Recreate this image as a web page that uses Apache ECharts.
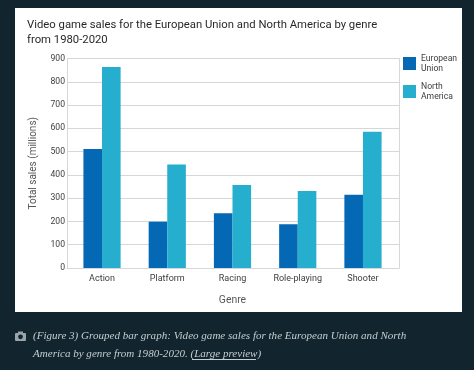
<!DOCTYPE html>
<html>
<head>
<meta charset="utf-8">
<style>
  html, body { margin: 0; padding: 0; background: #12242d; }
  #chart { width: 474px; height: 370px; }
</style>
</head>
<body>
<div id="chart"></div>
<script src="https://cdn.jsdelivr.net/npm/echarts@6/dist/echarts.min.js"></script>
<script>
const genres = ['Action', 'Platform', 'Racing', 'Role-playing', 'Shooter']
const europeanUnion = [511, 199, 235, 188, 315]
const northAmerica = [863, 445, 357, 331, 585]
const valueTicks = { min: 0, max: 900, interval: 100 }
const titleLines = 'Video game sales for the European Union and North America by genre\nfrom 1980-2020'
const captionLines = [
  '(Figure 3) Grouped bar graph: Video game sales for the European Union and North',
  'America by genre from 1980-2020. (Large preview)'
]
const labelFont = 'Roboto, sans-serif'
const captionFont = '"Liberation Serif", serif'
const captionColor = '#c5ced2'
const frameColor = '#d5d7d8'

const chart = echarts.init(document.getElementById('chart'), null, { renderer: 'canvas', width: 474, height: 370 })

function captionText (text, x, y) {
  return {
    type: 'text',
    x: x,
    y: y,
    z: 5,
    style: { text: text, fill: captionColor, font: 'italic 11.05px ' + captionFont, textVerticalAlign: 'middle' }
  }
}

chart.setOption({
  backgroundColor: '#12242d',
  animation: false,
  textStyle: { fontFamily: labelFont },
  title: {
    text: titleLines,
    left: 22,
    top: 13,
    textStyle: { fontSize: 11.3, fontWeight: 'normal', color: '#26292b', lineHeight: 15, fontFamily: labelFont }
  },
  legend: {
    orient: 'vertical',
    left: 398,
    top: 48.5,
    itemWidth: 13,
    itemHeight: 13,
    itemGap: 8,
    itemStyle: { borderWidth: 0 },
    icon: 'rect',
    textStyle: { fontSize: 8.6, color: '#3a3d40', lineHeight: 10, fontFamily: labelFont },
    data: [
      { name: 'European\nUnion' },
      { name: 'North\nAmerica' }
    ]
  },
  // first grid carries the frame and the gridlines, second one the bars
  grid: [
    { left: 67, right: 75, top: 58.5, bottom: 102 },
    { left: 69.4, width: 326.2, top: 58.5, bottom: 102 }
  ],
  xAxis: [
    {
      gridIndex: 0,
      type: 'category',
      data: genres,
      axisLine: { lineStyle: { color: frameColor, width: 1 } },
      axisTick: { show: false },
      axisLabel: { show: false },
      splitLine: { show: false }
    },
    {
      gridIndex: 1,
      type: 'category',
      data: genres,
      name: 'Genre',
      nameLocation: 'middle',
      nameGap: 27,
      nameTextStyle: { fontSize: 10.4, color: '#55585a' },
      axisLine: { show: false },
      axisTick: { show: false },
      axisLabel: { fontSize: 9, color: '#3a3d40', margin: 6, interval: 0 }
    }
  ],
  yAxis: [
    {
      gridIndex: 0,
      type: 'value',
      min: valueTicks.min,
      max: valueTicks.max,
      interval: valueTicks.interval,
      name: 'Total sales (millions)',
      nameLocation: 'middle',
      nameGap: 29,
      nameTextStyle: { fontSize: 10, color: '#55585a' },
      axisLine: { show: true, lineStyle: { color: frameColor, width: 1 } },
      axisTick: { show: false },
      axisLabel: { fontSize: 8.6, color: '#3a3d40', margin: 2 },
      splitLine: { show: true, lineStyle: { color: frameColor, width: 1 } }
    },
    {
      gridIndex: 1,
      type: 'value',
      min: valueTicks.min,
      max: valueTicks.max,
      interval: valueTicks.interval,
      show: false
    },
    {
      // right edge of the frame
      gridIndex: 0,
      type: 'value',
      position: 'right',
      min: valueTicks.min,
      max: valueTicks.max,
      interval: valueTicks.interval,
      axisLine: { show: true, lineStyle: { color: frameColor, width: 1 } },
      axisTick: { show: false },
      axisLabel: { show: false },
      splitLine: { show: false }
    }
  ],
  series: [
    {
      name: 'European\nUnion',
      type: 'bar',
      xAxisIndex: 1,
      yAxisIndex: 1,
      barWidth: 18.6,
      barGap: 0,
      data: europeanUnion,
      itemStyle: { color: '#0568b5' }
    },
    {
      name: 'North\nAmerica',
      type: 'bar',
      xAxisIndex: 1,
      yAxisIndex: 1,
      barWidth: 18.6,
      barGap: 0,
      data: northAmerica,
      itemStyle: { color: '#25aecd' }
    }
  ],
  graphic: [
    { type: 'rect', z: -10, shape: { x: 15, y: 8, width: 447, height: 304 }, style: { fill: '#ffffff' } },
    // camera icon
    { type: 'rect', z: 5, shape: { x: 15, y: 333, width: 11, height: 8, r: 1 }, style: { fill: '#9aa5aa' } },
    { type: 'rect', z: 5, shape: { x: 18, y: 331.5, width: 5, height: 2 }, style: { fill: '#9aa5aa' } },
    { type: 'circle', z: 6, shape: { cx: 20.5, cy: 336.8, r: 2.4 }, style: { fill: '#12242d' } },
    captionText(captionLines[0], 33, 336),
    captionText(captionLines[1], 33, 354),
    { type: 'line', z: 5, shape: { x1: 192, y1: 359.5, x2: 256, y2: 359.5 }, style: { stroke: captionColor, lineWidth: 1 } }
  ]
})
</script>
</body>
</html>
